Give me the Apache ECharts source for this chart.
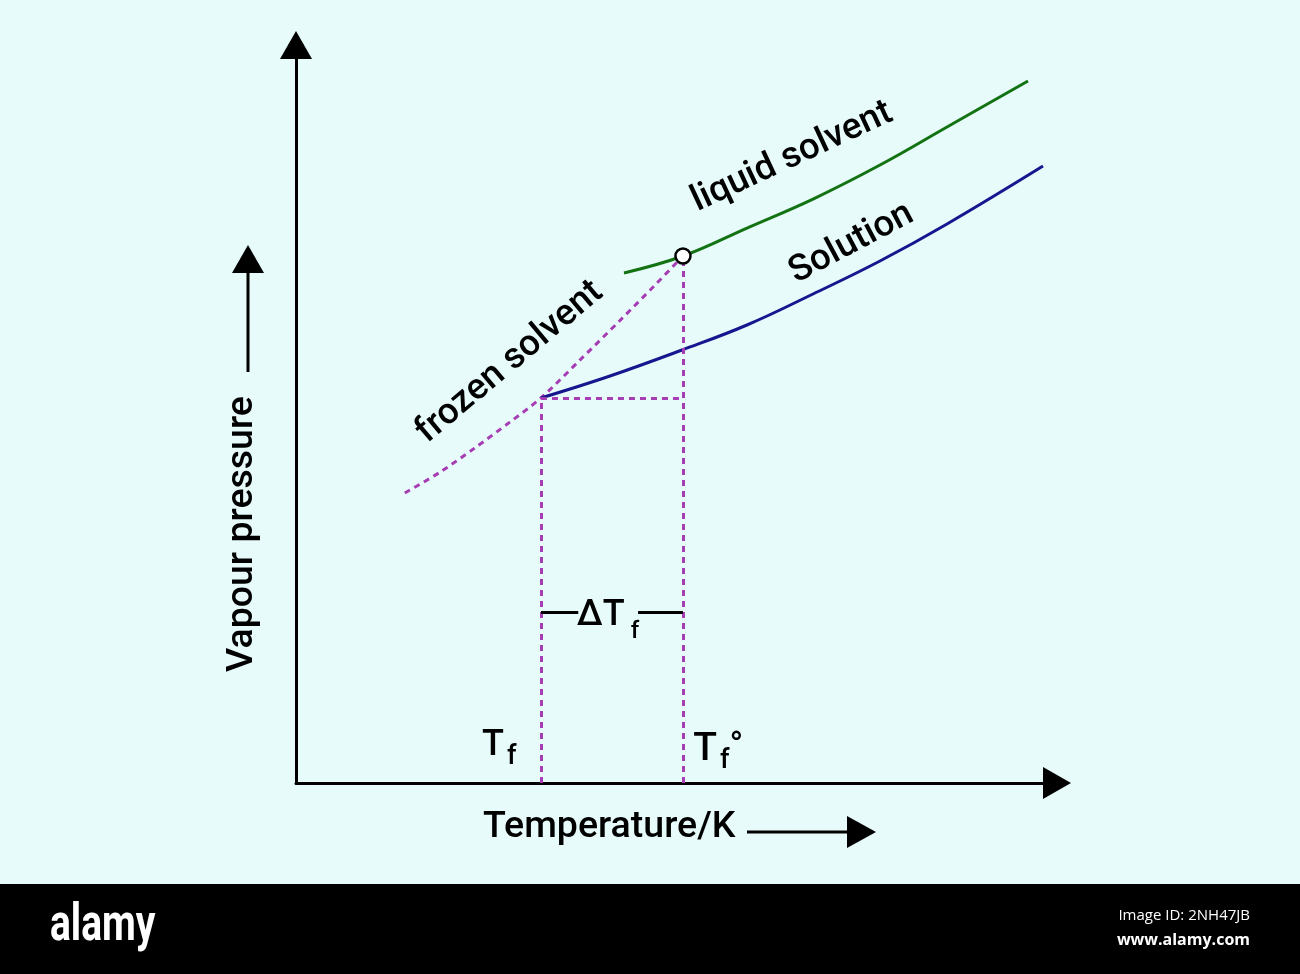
<!DOCTYPE html>
<html><head><meta charset="utf-8">
<script src="https://cdn.jsdelivr.net/npm/echarts@6/dist/echarts.min.js"></script>
<style>html,body{margin:0;padding:0;background:#e7fbfb}#c{width:1300px;height:974px}</style>
</head><body><div id="c"></div>
<script>
// ---- data (arbitrary units: temperature 0..100, vapour pressure 0..100) ----
const liquidSolvent = [[43.10,69.11],[50.85,71.41],[59.26,75.20],[67.94,79.13],[76.74,83.74],[85.55,88.89],[96.19,95.12]];
const solution = [[32.19,52.17],[41.26,55.15],[50.72,58.67],[59.26,62.06],[67.94,66.26],[76.74,70.73],[85.55,75.75],[98.16,83.60]];
const frozenSolvent = [[14.3,39.3],[18.9,42.1],[23.5,45.4],[28.1,48.9],[32.19,52.17],[37.3,57.3],[42.6,62.7],[47.2,67.5],[50.85,71.41]];
const Tf = 32.19, TfPure = 50.85;       // freezing points (solution, pure solvent)
const pSolution = 52.17, pPure = 71.41; // vapour pressures at freezing points
const deltaY = 23.2;                    // height of the ΔTf bracket
const curveLabels = [
  {text: 'liquid solvent', x: 65.2, y: 84.8, rotate: 25},
  {text: 'Solution',       x: 73.0, y: 73.1, rotate: 28},
  {text: 'frozen solvent', x: 28.1, y: 57.0, rotate: 40}
];
const tickLabels = [
  {text: '{t|T}{s|f}',          x: 26.7, y: 5.0},
  {text: '{t2|T}{s|f}{d|°}',    x: 55.5, y: 4.4},
  {text: '{t|ΔT}{s2|f}',        x: 41.0, y: 22.6}
];

const FONT = 'Roboto';
const purple = '#a63db3';
const dotted = {color: purple, width: 3, type: [6, 5]};

const chart = echarts.init(document.getElementById('c'));
chart.setOption({
  backgroundColor: '#e7fbfb',
  animation: false,
  grid: {left: 296, right: 243, top: 45, bottom: 191},
  xAxis: {type: 'value', min: 0, max: 100, axisLabel: {show: false}, axisTick: {show: false}, splitLine: {show: false},
    axisLine: {lineStyle: {color: '#000', width: 3}, symbol: ['none', 'triangle'], symbolSize: [32, 28], symbolOffset: [0, 0]}},
  yAxis: {type: 'value', min: 0, max: 100, axisLabel: {show: false}, axisTick: {show: false}, splitLine: {show: false},
    axisLine: {lineStyle: {color: '#000', width: 3}, symbol: ['none', 'triangle'], symbolSize: [32, 28], symbolOffset: [0, 0]}},
  series: [
    {type: 'line', data: frozenSolvent, smooth: 0.3, symbol: 'none', lineStyle: dotted, z: 3,
      markLine: {silent: true, symbol: ['none', 'none'], label: {show: false}, lineStyle: dotted,
        data: [
          [{coord: [Tf, 0]}, {coord: [Tf, pSolution]}],
          [{coord: [TfPure, 0]}, {coord: [TfPure, pPure]}],
          [{coord: [Tf, pSolution]}, {coord: [TfPure, pSolution]}]
        ]}},
    {type: 'line', data: liquidSolvent, smooth: 0.4, symbol: 'none', lineStyle: {color: '#137313', width: 3}, z: 4},
    {type: 'line', data: solution, smooth: 0.4, symbol: 'none', lineStyle: {color: '#16168f', width: 3}, z: 4},
    {type: 'line', data: [], symbol: 'none',
      markLine: {silent: true, symbol: ['none', 'none'], label: {show: false}, lineStyle: {color: '#000', width: 3, type: 'solid'},
        data: [
          [{coord: [Tf, deltaY]}, {coord: [Tf + 4.9, deltaY]}],
          [{coord: [TfPure - 5.9, deltaY]}, {coord: [TfPure, deltaY]}]
        ]}},
    {type: 'scatter', data: [[TfPure, pPure]], symbol: 'circle', symbolSize: 15, z: 10,
      itemStyle: {color: '#fff', borderColor: '#000', borderWidth: 2.5, opacity: 1}},
    {type: 'scatter', symbolSize: 0, z: 12, silent: true, itemStyle: {opacity: 1},
      data: curveLabels.map(l => ({value: [l.x, l.y], label: {formatter: l.text, rotate: l.rotate}})),
      label: {show: true, position: 'inside', color: '#000', opacity: 1, fontFamily: FONT, fontWeight: 500, fontSize: 36.5}},
    {type: 'scatter', symbolSize: 0, z: 12, silent: true, itemStyle: {opacity: 1},
      data: tickLabels.map(l => ({value: [l.x, l.y], label: {formatter: l.text}})),
      label: {show: true, position: 'inside', color: '#000', opacity: 1,
        rich: {
          t: {fontFamily: FONT, fontWeight: 500, fontSize: 36, color: '#000'},
          t2: {fontFamily: FONT, fontWeight: 500, fontSize: 39, color: '#000'},
          s: {fontFamily: FONT, fontWeight: 500, fontSize: 27, color: '#000', padding: [22, 0, 0, 3]},
          s2: {fontFamily: FONT, fontWeight: 500, fontSize: 24, color: '#000', padding: [32, 0, 0, 6]},
          d: {fontFamily: FONT, fontWeight: 500, fontSize: 36, color: '#000', padding: [0, 0, 6, 0]}
        }}}
  ],
  graphic: [
    {type: 'text', x: 243, y: 534, rotation: Math.PI / 2,
      style: {text: 'Vapour pressure', fill: '#000', font: '500 37.5px Roboto', textAlign: 'center', textVerticalAlign: 'middle'}},
    {type: 'line', shape: {x1: 248, y1: 372, x2: 248, y2: 270}, style: {stroke: '#000', lineWidth: 3}},
    {type: 'polygon', shape: {points: [[232, 273], [264, 273], [248, 245]]}, style: {fill: '#000'}},
    {type: 'text', x: 483, y: 828,
      style: {text: 'Temperature/K', fill: '#000', font: '500 37.5px Roboto', textAlign: 'left', textVerticalAlign: 'middle'}},
    {type: 'line', shape: {x1: 747, y1: 832, x2: 850, y2: 832}, style: {stroke: '#000', lineWidth: 3}},
    {type: 'polygon', shape: {points: [[847, 816], [847, 848], [876, 832]]}, style: {fill: '#000'}},
    {type: 'rect', shape: {x: 0, y: 884, width: 1300, height: 90}, style: {fill: '#000'}},
    {type: 'text', x: 50, y: 927, scaleX: 0.75,
      style: {text: 'alamy', fill: '#fff', font: '700 52px Roboto', textAlign: 'left', textVerticalAlign: 'middle'}},
    {type: 'text', x: 1250, y: 916,
      style: {text: 'Image ID: 2NH47JB', fill: '#fff', font: '15px "Open Sans"', textAlign: 'right', textVerticalAlign: 'middle'}},
    {type: 'text', x: 1250, y: 940,
      style: {text: 'www.alamy.com', fill: '#fff', font: 'bold 16px "Open Sans"', textAlign: 'right', textVerticalAlign: 'middle'}}
  ]
});
</script></body></html>
